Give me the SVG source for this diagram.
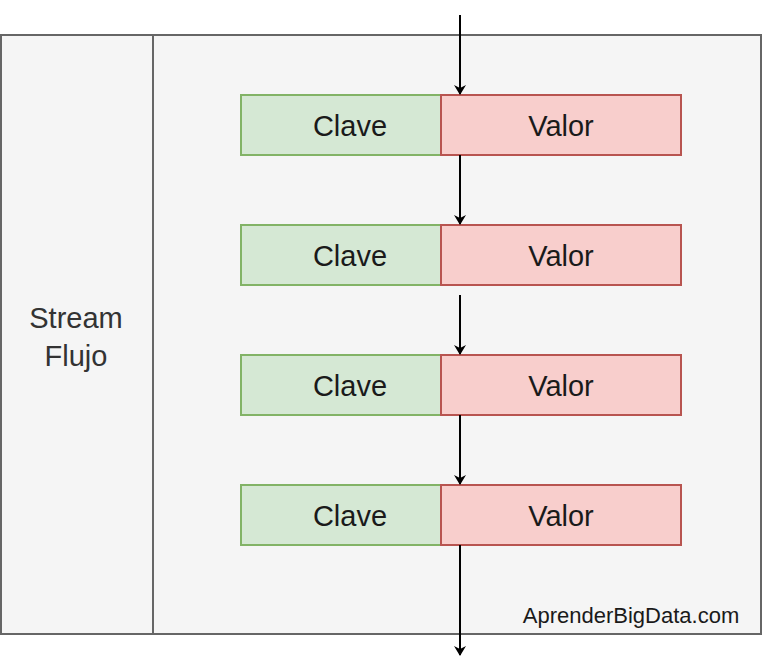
<svg xmlns="http://www.w3.org/2000/svg" width="762" height="672" viewBox="0 0 762 672">
<style>
text{font-family:"Liberation Sans",Arial,sans-serif;fill:#1a1a1a;text-anchor:middle}
.k{fill:#d5e8d4;stroke:#82b366;stroke-width:2}
.v{fill:#f8cecc;stroke:#b85450;stroke-width:2}
.t{font-size:29px}
line{stroke:#000;stroke-width:2;marker-end:url(#a)}
</style>
<defs><marker id="a" markerWidth="10" markerHeight="12" refX="9" refY="6" orient="auto" markerUnits="userSpaceOnUse"><path d="M0,0L10,6L0,12L3,6z" fill="#000"/></marker></defs>
<rect width="762" height="672" fill="#fff"/>
<g id="container">
<rect x="1" y="35" width="760" height="599" fill="#f5f5f5" stroke="#666" stroke-width="2"/>
<line x1="153" y1="35" x2="153" y2="634" style="stroke:#666;marker-end:none"/>
<text x="76" y="328" class="t" style="fill:#333">Stream</text>
<text x="76" y="366" class="t" style="fill:#333">Flujo</text>
<text x="631" y="623" style="font-size:22px">AprenderBigData.com</text>
</g>
<g id="row1"><rect class="k" x="241" y="95" width="200" height="60"/><rect class="v" x="441" y="95" width="240" height="60"/><text class="t" x="350" y="136">Clave</text><text class="t" x="561" y="136">Valor</text></g>
<g id="row2"><rect class="k" x="241" y="225" width="200" height="60"/><rect class="v" x="441" y="225" width="240" height="60"/><text class="t" x="350" y="266">Clave</text><text class="t" x="561" y="266">Valor</text></g>
<g id="row3"><rect class="k" x="241" y="355" width="200" height="60"/><rect class="v" x="441" y="355" width="240" height="60"/><text class="t" x="350" y="396">Clave</text><text class="t" x="561" y="396">Valor</text></g>
<g id="row4"><rect class="k" x="241" y="485" width="200" height="60"/><rect class="v" x="441" y="485" width="240" height="60"/><text class="t" x="350" y="526">Clave</text><text class="t" x="561" y="526">Valor</text></g>
<g id="connectors">
<line x1="460" y1="15" x2="460" y2="94"/>
<line x1="460" y1="155" x2="460" y2="224"/>
<line x1="460" y1="295" x2="460" y2="354"/>
<line x1="460" y1="415" x2="460" y2="484"/>
<line x1="460" y1="545" x2="460" y2="655"/>
</g>
</svg>
